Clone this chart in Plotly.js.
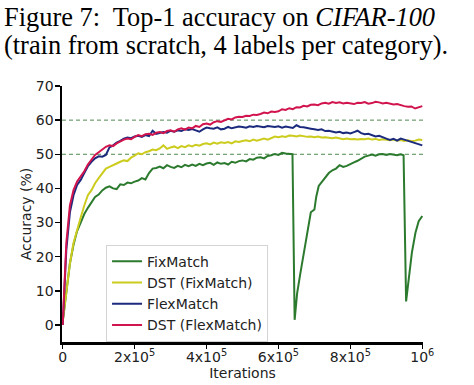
<!DOCTYPE html>
<html><head><meta charset="utf-8">
<script src="https://cdn.plot.ly/plotly-3.0.1.min.js"></script>
<style>html,body{margin:0;padding:0;background:#fff;}#chart{width:474px;height:385px;}</style>
</head><body><div id="chart"></div>
<script>
// Series sampled every 10,000 iterations (index 0..100)
const stepIter = 10000;
const dstFlexMatch = [0,24,35,39.5,42,43.5,45,47,48.5,49.8,
 50.6,51.3,52.2,52.6,52.4,53.2,53.8,54.3,54.6,54.4,
 55.1,55.6,55.3,55.9,56.0,55.7,56.3,56.5,56.2,56.8,
 57.0,56.6,57.3,57.6,57.2,57.8,57.6,58.3,58.0,58.8,
 59.0,58.7,59.4,59.7,59.5,60.0,60.4,60.2,60.8,61.0,
 60.9,61.3,61.2,61.6,61.5,61.8,62.2,62.0,62.5,62.4,
 62.6,63.2,63.0,63.5,63.2,63.8,63.7,64.2,64.0,64.5,
 64.6,64.4,64.9,65.1,64.8,65.3,65.0,65.2,64.9,65.1,
 65.0,64.7,65.1,65.0,65.3,64.8,65.0,65.4,65.2,64.9,
 65.1,64.8,64.6,64.7,64.3,64.1,63.9,64.0,63.4,63.8,64.1];
const flexMatch = [0,22,33,38,41,42.5,44.5,46.5,47.8,48.8,
 49.4,49.3,49.8,52.0,52.6,53.4,53.9,54.6,54.9,54.7,
 55.2,55.4,55.1,55.6,55.3,56.9,56.0,56.2,56.5,56.3,
 56.9,56.6,57.0,56.8,57.3,57.1,57.4,57.0,56.6,57.3,
 57.8,57.6,57.5,57.9,57.3,57.5,58.0,57.6,57.9,58.1,
 58.0,57.8,58.2,58.0,58.3,58.1,57.9,58.3,58.1,58.0,
 58.2,57.8,58.1,58.0,57.7,58.5,58.0,57.9,57.6,57.5,
 57.3,57.1,57.3,56.8,56.9,56.6,56.4,56.6,56.2,56.4,
 56.1,56.5,56.9,56.2,55.9,56.0,55.6,55.2,55.4,54.9,
 54.6,54.2,54.5,54.0,54.6,54.3,54.0,53.6,53.4,53.0,52.6];
const dstFixMatch = [1,10,18,24,28,31.5,35,38,39.5,41.5,
 43,44.3,45.8,46.3,46.9,47.3,47.8,48.2,48.0,49.0,
 49.6,50.3,50.0,50.6,50.9,51.4,51.2,51.7,52.6,51.6,
 52.0,52.3,51.8,52.4,52.1,52.6,52.3,52.8,52.5,53.0,
 53.2,52.9,53.4,53.1,53.5,53.3,53.6,53.2,53.8,53.6,
 53.9,54.1,53.8,54.3,54.0,54.4,54.6,54.3,54.8,55.2,
 55.0,55.3,55.1,55.5,55.4,55.2,55.5,55.3,55.1,55.2,
 55.0,55.2,54.9,55.0,54.8,54.7,54.9,54.6,54.4,54.6,
 54.4,54.5,54.3,54.5,54.4,54.6,54.3,54.5,54.2,54.4,
 54.3,54.1,54.3,54.0,54.2,53.9,54.1,53.8,54.0,54.3,54.2];
// FixMatch has its own iteration list (extra samples around the collapses)
const fixIters = [0,10000,20000,30000,40000,50000,60000,70000,80000,90000,
 100000,110000,120000,130000,140000,150000,160000,170000,180000,190000,
 200000,210000,220000,230000,240000,250000,260000,270000,280000,290000,
 300000,310000,320000,330000,340000,350000,360000,370000,380000,390000,
 400000,410000,420000,430000,440000,450000,460000,470000,480000,490000,
 500000,510000,520000,530000,540000,550000,560000,570000,580000,590000,
 600000,610000,620000,630000,639000,645000,652000,661000,670000,680000,
 690000,700000,705000,712000,720000,730000,740000,750000,760000,770000,
 780000,790000,800000,810000,820000,830000,840000,850000,860000,870000,
 880000,890000,900000,910000,920000,930000,940000,948000,955000,962000,
 971000,981000,990000,1000000];
const fixMatch = [1,10,18,23.5,27.5,30,32.5,34.3,35.8,37.5,
 38.2,39.4,40.2,40.6,40.0,39.8,41.2,41.0,41.7,41.5,
 42.0,42.3,43.0,42.6,44.5,45.8,46.0,46.4,45.9,46.8,
 46.3,46.0,46.6,46.2,46.9,46.5,47.0,46.6,47.2,46.8,
 47.3,47.5,46.9,47.6,47.2,47.4,47.0,47.8,47.5,48.0,
 48.2,47.9,48.6,48.4,49.0,49.1,48.8,49.5,49.7,50.1,
 49.8,50.4,50.2,50.1,50.0,1.5,9.3,15.2,21,27.5,
 33,33.8,37.5,40.7,41.8,43,44.5,45.3,45.8,46.8,
 46.3,46.6,47.2,47.6,48.1,48.7,49.3,49.6,49.9,49.6,
 50.0,50.1,49.8,50.1,50.0,49.7,50.0,49.7,6.9,13.2,
 21.1,27,30.4,31.9];
const seriesNames = ['FixMatch','DST (FixMatch)','FlexMatch','DST (FlexMatch)'];
const seriesColors = ['#2b7a2e','#cccc1e','#1c2a7e','#d2144e'];
const refLines = [50, 60];
const xTickVals = [0,200000,400000,600000,800000,1000000];
const xTickText = ['0','2x10<sup>5</sup>','4x10<sup>5</sup>','6x10<sup>5</sup>','8x10<sup>5</sup>','10<sup>6</sup>'];
const yTickVals = [0,10,20,30,40,50,60,70];

const sans = 'DejaVu Sans, sans-serif';
const fs = 14;
const traces = [
 {x: fixIters, y: fixMatch, name: seriesNames[0]},
 {x0: 0, dx: stepIter, y: dstFixMatch, name: seriesNames[1]},
 {x0: 0, dx: stepIter, y: flexMatch, name: seriesNames[2]},
 {x0: 0, dx: stepIter, y: dstFlexMatch, name: seriesNames[3]}
].map((t,i)=>Object.assign(t,{type:'scatter',mode:'lines',line:{color:seriesColors[i],width:2}}));

const layout = {
 width:474, height:385,
 margin:{l:62,r:51,t:86,b:43},
 paper_bgcolor:'#fff', plot_bgcolor:'#fff',
 showlegend:true,
 font:{family:sans,size:fs,color:'#222'},
 xaxis:{range:[-2000,1002000], showgrid:false, zeroline:false, showline:true, linecolor:'#000', linewidth:2.5,
   ticks:'outside', ticklen:4, tickwidth:1.5, tickcolor:'#000', tickvals:xTickVals, ticktext:xTickText,
   ticklabelstandoff:-3,
   tickfont:{family:sans,size:fs,color:'#222'},
   title:{text:'Iterations', font:{family:sans,size:fs,color:'#222'}, standoff:0}},
 yaxis:{range:[-5,70], showgrid:false, zeroline:false, showline:true, linecolor:'#000', linewidth:2.5,
   ticks:'outside', ticklen:5, tickwidth:1.5, tickcolor:'#000', tickvals:yTickVals,
   ticklabelstandoff:-2,
   tickfont:{family:sans,size:fs,color:'#222'},
   title:{text:'Accuracy (%)', font:{family:sans,size:fs,color:'#222'}, standoff:1}},
 shapes: refLines.map(v=>({type:'line',xref:'paper',x0:0,x1:1,yref:'y',y0:v,y1:v,line:{color:'#4f8a4f',width:1,dash:'4px,3px'},layer:'below'})),
 legend:{x:0.122,y:0.38,xanchor:'left',yanchor:'top',bgcolor:'#fff',bordercolor:'#d4d4d4',borderwidth:1,
   font:{family:sans,size:fs,color:'#222'},tracegroupgap:0},
 annotations:[
  {xref:'paper',yref:'paper',x:-0.165,y:1.27,xanchor:'left',yanchor:'middle',showarrow:false,
   text:'Figure 7:  Top-1 accuracy on <i>CIFAR-100</i>',font:{family:'Liberation Serif, serif',size:26.4,color:'#000'}},
  {xref:'paper',yref:'paper',x:-0.165,y:1.162,xanchor:'left',yanchor:'middle',showarrow:false,
   text:'(train from scratch, 4 labels per category).',font:{family:'Liberation Serif, serif',size:26.4,color:'#000'}}
 ]
};
Plotly.newPlot('chart', traces, layout, {displayModeBar:false, staticPlot:true});
</script></body></html>
